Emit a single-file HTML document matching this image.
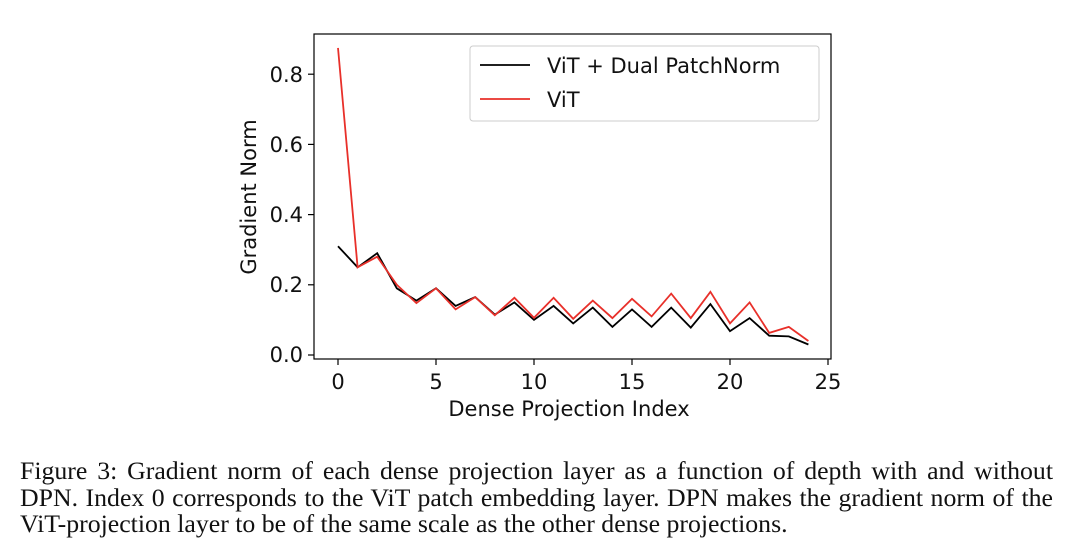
<!DOCTYPE html>
<html><head><style>
body{margin:0;background:#fff;width:1080px;height:559px;overflow:hidden}
.cap{position:absolute;left:20px;width:1033px;font-family:"Liberation Serif",serif;font-size:25.8px;line-height:27px;color:#111;white-space:nowrap}
.j{text-align:justify;text-align-last:justify}
</style></head><body>
<svg width="1080" height="440" style="position:absolute;left:0;top:0" font-family="DejaVu Sans, Liberation Sans, sans-serif">
<rect x="314" y="34" width="517" height="325" fill="none" stroke="#000" stroke-width="1.2"/>
<g stroke="#000" stroke-width="1.2">
<line x1="338" y1="359" x2="338" y2="365"/><line x1="436" y1="359" x2="436" y2="365"/><line x1="534" y1="359" x2="534" y2="365"/><line x1="632" y1="359" x2="632" y2="365"/><line x1="730" y1="359" x2="730" y2="365"/><line x1="828" y1="359" x2="828" y2="365"/>
<line x1="308" y1="355" x2="314" y2="355"/><line x1="308" y1="284.8" x2="314" y2="284.8"/><line x1="308" y1="214.6" x2="314" y2="214.6"/><line x1="308" y1="144.4" x2="314" y2="144.4"/><line x1="308" y1="74.2" x2="314" y2="74.2"/>
</g>
<g font-size="21" fill="#111" text-anchor="middle">
<text x="338" y="389">0</text><text x="436" y="389">5</text><text x="534" y="389">10</text><text x="632" y="389">15</text><text x="730" y="389">20</text><text x="828" y="389">25</text>
</g>
<g font-size="21" fill="#111" text-anchor="end">
<text x="303" y="362">0.0</text><text x="303" y="292">0.2</text><text x="303" y="222">0.4</text><text x="303" y="152">0.6</text><text x="303" y="82">0.8</text>
</g>
<text x="569" y="416" font-size="21" text-anchor="middle" fill="#111">Dense Projection Index</text>
<text transform="translate(256,197) rotate(-90)" font-size="21" text-anchor="middle" fill="#111">Gradient Norm</text>
<polyline id="b" fill="none" stroke="#000" stroke-width="1.8" points=""/>
<polyline id="r" fill="none" stroke="#e8302a" stroke-width="1.8" points=""/>
<rect x="470" y="46" width="349" height="75" rx="3" fill="#fff" fill-opacity="0.85" stroke="#ccc"/>
<line x1="480" y1="65" x2="530" y2="65" stroke="#000" stroke-width="1.8"/>
<line x1="480" y1="99" x2="530" y2="99" stroke="#e8302a" stroke-width="1.8"/>
<text x="547" y="73" font-size="21" fill="#111">ViT + Dual PatchNorm</text>
<text x="547" y="107" font-size="21" fill="#111">ViT</text>
</svg>
<script>
var B=[0.31,0.25,0.29,0.19,0.155,0.19,0.14,0.165,0.115,0.15,0.10,0.14,0.09,0.135,0.08,0.13,0.08,0.135,0.078,0.145,0.068,0.105,0.055,0.053,0.03];
var R=[0.875,0.25,0.28,0.2,0.148,0.19,0.13,0.165,0.113,0.163,0.106,0.163,0.103,0.155,0.105,0.16,0.11,0.175,0.105,0.18,0.09,0.15,0.063,0.08,0.04];
function p(a){return a.map(function(v,i){return (338+i*19.6).toFixed(1)+","+(355-v*351).toFixed(1)}).join(" ")}
document.getElementById("b").setAttribute("points",p(B));
document.getElementById("r").setAttribute("points",p(R));
</script>
<div class="cap j" style="top:457px">Figure 3: Gradient norm of each dense projection layer as a function of depth with and without</div>
<div class="cap j" style="top:483.5px">DPN. Index 0 corresponds to the ViT patch embedding layer. DPN makes the gradient norm of the</div>
<div class="cap" style="top:510px">ViT-projection layer to be of the same scale as the other dense projections.</div>
</body></html>
